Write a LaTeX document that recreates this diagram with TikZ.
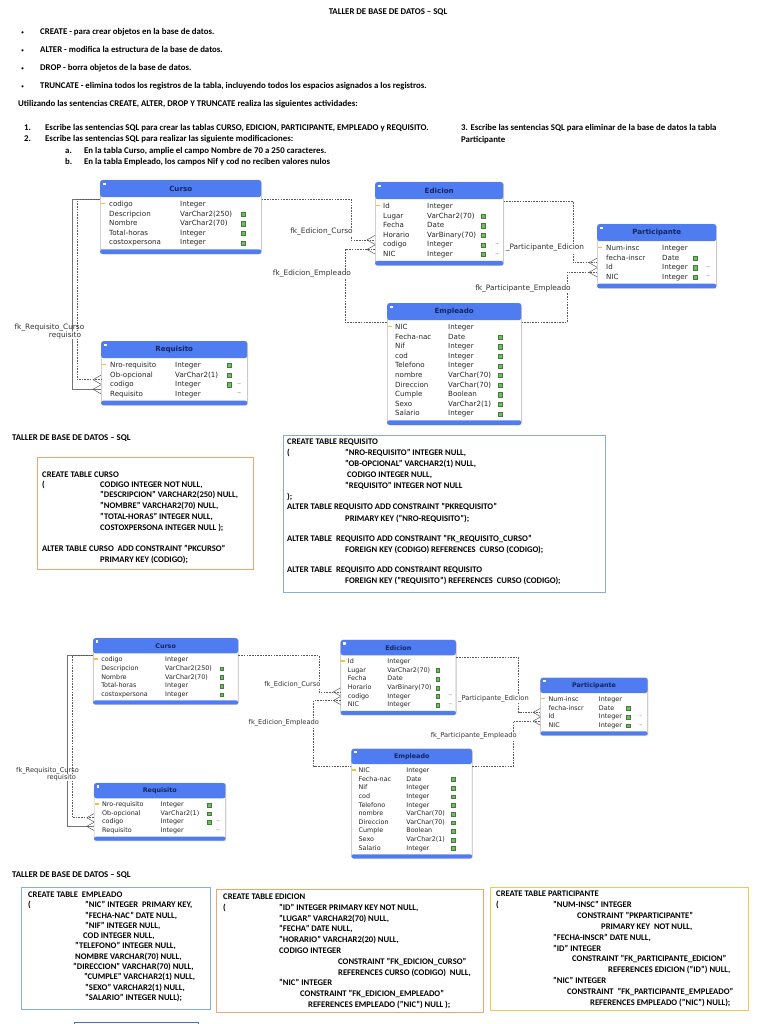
\documentclass[tikz,border=0pt]{standalone}
\usepackage{fontspec}
\setmainfont{Carlito}
\newfontfamily\erfont{DejaVu Sans}
\usetikzlibrary{positioning,shadows}
\definecolor{erblue}{HTML}{4F7DF1}
\definecolor{erhead}{HTML}{14245E}
\definecolor{erline}{HTML}{5A5A5A}
\definecolor{okgreen}{HTML}{6DBE5E}
\definecolor{pkyellow}{HTML}{F2C230}
\definecolor{sqlorange}{HTML}{F0A572}
\definecolor{sqlblue}{HTML}{85ADDD}
\definecolor{sqlyellow}{HTML}{F5C947}
\definecolor{sqldeep}{HTML}{4472C4}
\tikzset{
  doctext/.style={font=\fontsize{8.8}{10}\selectfont\bfseries, anchor=west, inner sep=0pt, text height=6pt, text depth=1.7pt},
  sqltext/.style={font=\fontsize{8.6}{10}\selectfont\bfseries, anchor=west, inner sep=0pt, text height=6pt, text depth=1.7pt},
  sqlbox/.style={draw, line width=0.9pt, anchor=north west, inner sep=0pt},
  tbl/.style={draw=black!28, fill=white, rounded corners=2.5pt, anchor=north west, inner sep=0pt, line width=0.6pt, drop shadow={shadow xshift=0.7pt, shadow yshift=-0.9pt, opacity=0.25}},
  thead/.style={fill=erblue, rounded corners=2.5pt, anchor=north west, inner sep=0pt, minimum height=17, font=\erfont\fontsize{7.1}{8}\selectfont\bfseries, text=erhead},
  tfoot/.style={fill=erblue, rounded corners=2pt, anchor=south west, inner sep=0pt, minimum height=4.5},
  tsq/.style={fill=white, minimum size=2.6, inner sep=0pt},
  fld/.style={anchor=west, inner sep=0pt, font=\erfont\fontsize{7.1}{8}\selectfont, text=black!85, text height=5.2pt, text depth=1.3pt},
  nn/.style={fill=okgreen, draw=okgreen!65!black, line width=0.3pt, minimum size=4.2, inner sep=0pt},
  fkey/.style={inner sep=0pt, font=\erfont\fontsize{4.5}{5}\selectfont, text=black!45},
  pk/.style={fill=pkyellow, minimum width=4.5, minimum height=1.6, inner sep=0pt},
  fk/.style={draw=erline, line width=0.55pt, dash pattern=on 1.6pt off 1.1pt},
  fkfull/.style={draw=erline!85, line width=0.7pt},
  fklabel/.style={inner sep=0.6pt, fill=white, font=\erfont\fontsize{7.4}{8}\selectfont, text=black!80},
  crow/.pic={\draw[erline, line width=0.5pt] (-8,0) -- (0,-4.5) (-8,0) -- (0,4.5);},
}
\begin{document}
\begin{tikzpicture}[x=1pt,y=-1pt]
  \fill[white] (0,0) rectangle (768,1024);
  \useasboundingbox (0,0) rectangle (768,1024);

  % heading and task list
  \node[doctext, anchor=center] (title) at (388,12) {TALLER DE BASE DE DATOS – SQL};
  \foreach \y/\s [count=\i] in {32/{CREATE - para crear objetos en la base de datos.},
      50/{ALTER - modifica la estructura de la base de datos.},
      68/{DROP - borra objetos de la base de datos.},
      86/{TRUNCATE - elimina todos los registros de la tabla, incluyendo todos los espacios asignados a los registros.}}{
    \node[doctext, font=\fontsize{6}{7}\selectfont] (dot\i) at (21,\y) {•};
    \node[doctext] (item\i) at (40,\y) {\s};
  }
  \node[doctext] (intro) at (18,104) {Utilizando las sentencias CREATE, ALTER, DROP Y TRUNCATE realiza las siguientes actividades:};
  \node[doctext] (n1) at (24,128) {1.};
  \node[doctext] (t1) at (45,128) {Escribe las sentencias SQL para crear las tablas CURSO, EDICION, PARTICIPANTE, EMPLEADO y REQUISITO.};
  \node[doctext] (n2) at (24,139) {2.};
  \node[doctext] (t2) at (45,139) {Escribe las sentencias SQL para realizar las siguiente modificaciones:};
  \node[doctext] (na) at (65,151) {a.};
  \node[doctext] (ta) at (84,151) {En la tabla Curso, amplie el campo Nombre de 70 a 250 caracteres.};
  \node[doctext] (nb) at (65,162) {b.};
  \node[doctext] (tb) at (84,162) {En la tabla Empleado, los campos Nif y cod no reciben valores nulos};
  \node[doctext] (n3) at (461,128) {3. Escribe las sentencias SQL para eliminar de la base de datos la tabla};
  \node[doctext] (t3) at (461,140) {Participante};

  % the same model twice, second one smaller
  \foreach \dg/\dx/\dy/\ds in {a/0/0/1, b/3/476/0.9}{
  \begin{scope}[shift={(\dx,\dy)}, scale=\ds, transform shape, name prefix=\dg-]
    % Curso
    \begin{scope}[shift={(100,180)}]
      \node[tbl, minimum width=161, minimum height=73.4] (curso) at (0,0) {};
      \node[thead, minimum width=161] (curso-h) at (0,0) {Curso};
      \node[tsq] (curso-s) at (4.5,4) {};
      \node[tfoot, minimum width=161] (curso-f) at (curso.south west) {};
      \node[pk] (curso-pk) at (3,23.5) {};
      \foreach \fn/\ft/\fg/\ff [count=\i from 0] in {codigo/Integer/0/0, Descripcion/VarChar2(250)/1/0,
          Nombre/VarChar2(70)/1/0, Total-horas/Integer/1/0, costoxpersona/Integer/1/0}{
        \coordinate (curso-r\i) at (0,19.5+9.6*\i);
        \node[fld] (curso-n\i) at (9,24.5+9.6*\i) {\fn};
        \node[fld] (curso-t\i) at (80,24.5+9.6*\i) {\ft};
        \ifnum\fg=1 \node[nn] (curso-g\i) at (143,24.5+9.6*\i) {};\fi
      }
    \end{scope}
    % Edicion
    \begin{scope}[shift={(375,182)}]
      \node[tbl, minimum width=128, minimum height=83] (edicion) at (0,0) {};
      \node[thead, minimum width=128] (edicion-h) at (0,0) {Edicion};
      \node[tsq] (edicion-s) at (4.5,4) {};
      \node[tfoot, minimum width=128] (edicion-f) at (edicion.south west) {};
      \node[pk] (edicion-pk) at (3,23.5) {};
      \foreach \fn/\ft/\fg/\ff [count=\i from 0] in {Id/Integer/0/0, Lugar/VarChar2(70)/1/0, Fecha/Date/1/0,
          Horario/VarBinary(70)/1/0, codigo/Integer/1/1, NIC/Integer/1/1}{
        \coordinate (edicion-r\i) at (0,19.5+9.6*\i);
        \node[fld] (edicion-n\i) at (8,24.5+9.6*\i) {\fn};
        \node[fld] (edicion-t\i) at (52,24.5+9.6*\i) {\ft};
        \ifnum\fg=1 \node[nn] (edicion-g\i) at (108,24.5+9.6*\i) {};\fi
        \ifnum\ff=1 \node[fkey] (edicion-k\i) at (122,24*1+9.6*\i) {⊸};\fi
      }
    \end{scope}
    % Participante
    \begin{scope}[shift={(597,224)}]
      \node[tbl, minimum width=119, minimum height=63.8] (participante) at (0,0) {};
      \node[thead, minimum width=119] (participante-h) at (0,0) {Participante};
      \node[tsq] (participante-s) at (4.5,4) {};
      \node[tfoot, minimum width=119] (participante-f) at (participante.south west) {};
      \node[pk] (participante-pk) at (3,23.5) {};
      \foreach \fn/\ft/\fg/\ff [count=\i from 0] in {Num-insc/Integer/0/0, fecha-inscr/Date/1/0,
          Id/Integer/1/1, NIC/Integer/1/1}{
        \coordinate (participante-r\i) at (0,19.5+9.6*\i);
        \node[fld] (participante-n\i) at (9,24.5+9.6*\i) {\fn};
        \node[fld] (participante-t\i) at (65,24.5+9.6*\i) {\ft};
        \ifnum\fg=1 \node[nn] (participante-g\i) at (98,24.5+9.6*\i) {};\fi
        \ifnum\ff=1 \node[fkey] (participante-k\i) at (111,24+9.6*\i) {⊸};\fi
      }
    \end{scope}
    % Empleado
    \begin{scope}[shift={(387,303)}]
      \node[tbl, minimum width=134, minimum height=121.4] (empleado) at (0,0) {};
      \node[thead, minimum width=134] (empleado-h) at (0,0) {Empleado};
      \node[tsq] (empleado-s) at (4.5,4) {};
      \node[tfoot, minimum width=134] (empleado-f) at (empleado.south west) {};
      \node[pk] (empleado-pk) at (3,23.5) {};
      \foreach \fn/\ft/\fg/\ff [count=\i from 0] in {NIC/Integer/0/0, Fecha-nac/Date/1/0, Nif/Integer/1/0,
          cod/Integer/1/0, Telefono/Integer/1/0, nombre/VarChar(70)/1/0, Direccion/VarChar(70)/1/0,
          Cumple/Boolean/1/0, Sexo/VarChar2(1)/1/0, Salario/Integer/1/0}{
        \coordinate (empleado-r\i) at (0,19.5+9.6*\i);
        \node[fld] (empleado-n\i) at (8,24.5+9.6*\i) {\fn};
        \node[fld] (empleado-t\i) at (61,24.5+9.6*\i) {\ft};
        \ifnum\fg=1 \node[nn] (empleado-g\i) at (113,24.5+9.6*\i) {};\fi
      }
    \end{scope}
    % Requisito
    \begin{scope}[shift={(101,341)}]
      \node[tbl, minimum width=146, minimum height=63.8] (requisito) at (0,0) {};
      \node[thead, minimum width=146] (requisito-h) at (0,0) {Requisito};
      \node[tsq] (requisito-s) at (4.5,4) {};
      \node[tfoot, minimum width=146] (requisito-f) at (requisito.south west) {};
      \node[pk] (requisito-pk) at (3,23.5) {};
      \foreach \fn/\ft/\fg/\ff [count=\i from 0] in {Nro-requisito/Integer/1/0, Ob-opcional/VarChar2(1)/1/0,
          codigo/Integer/1/1, Requisito/Integer/0/1}{
        \coordinate (requisito-r\i) at (0,19.5+9.6*\i);
        \node[fld] (requisito-n\i) at (9,24.5+9.6*\i) {\fn};
        \node[fld] (requisito-t\i) at (74,24.5+9.6*\i) {\ft};
        \ifnum\fg=1 \node[nn] (requisito-g\i) at (128,24.5+9.6*\i) {};\fi
        \ifnum\ff=1 \node[fkey] (requisito-k\i) at (138,24+9.6*\i) {⊸};\fi
      }
    \end{scope}

    % relationships
    \coordinate (bend-ec) at (351,0);
    \coordinate (bend-ee) at (345,0);
    \coordinate (bend-pe) at (573,0);
    \coordinate (bend-pm) at (567,0);
    \coordinate (bend-rc) at (72,0);
    \coordinate (bend-rq) at (77,0);
    \draw[fk] (curso.east |- curso-r0) -| (bend-ec |- edicion-r4) -- (edicion.west |- edicion-r4);
    \draw[fk] (edicion.west |- edicion-r5) -| (bend-ee |- empleado-r0) -- (empleado.west |- empleado-r0);
    \draw[fk] (edicion.east |- edicion-r0) -| (bend-pe |- participante-r2) -- (participante.west |- participante-r2);
    \draw[fk] (empleado.east |- empleado-r0) -| (bend-pm |- participante-r3) -- (participante.west |- participante-r3);
    \draw[fkfull] (curso.west |- curso-r0) -| (bend-rc |- requisito-r3) -- (requisito.west |- requisito-r3);
    \draw[fk] (curso.west |- curso-r0) -| (bend-rq |- requisito-r2) -- (requisito.west |- requisito-r2);
    \pic at (edicion.west |- edicion-r4) {crow};
    \pic at (edicion.west |- edicion-r5) {crow};
    \pic at (participante.west |- participante-r2) {crow};
    \pic at (participante.west |- participante-r3) {crow};
    \pic at (requisito.west |- requisito-r2) {crow};
    \pic at (requisito.west |- requisito-r3) {crow};
    \node[fklabel] (lab-ec) at (321.5,232) {fk\_Edicion\_Curso};
    \node[fklabel] (lab-ee) at (312,274) {fk\_Edicion\_Empleado};
    \node[fklabel, anchor=west] (lab-pe) at (505,248) {\_Participante\_Edicion};
    \node[fklabel] (lab-pm) at (523,289) {fk\_Participante\_Empleado};
    \node[fklabel, fill=none] (lab-rc) at (49.5,328) {fk\_Requisito\_Curso};
    \node[fklabel] (lab-rq) at (65,335) {requisito};
  \end{scope}
  }

  % first page of code
  \node[doctext] (sec1) at (12,438) {TALLER DE BASE DE DATOS – SQL};
  \node[sqlbox, draw=sqlorange, minimum width=216, minimum height=112] (curso-sql) at (37,457) {};
  \foreach \x/\y/\s [count=\i] in {42/475/{CREATE TABLE CURSO}, 42/485/{(}, 100/485/{CODIGO INTEGER NOT NULL,},
      100/495/{"DESCRIPCION" VARCHAR2(250) NULL,}, 100/506/{"NOMBRE" VARCHAR2(70) NULL,},
      100/517/{"TOTAL-HORAS" INTEGER NULL,}, 100/528/{COSTOXPERSONA INTEGER NULL );},
      42/549/{ALTER TABLE CURSO~ ADD CONSTRAINT "PKCURSO"}, 100/560/{PRIMARY KEY (CODIGO);}}
    \node[sqltext] (cur\i) at (\x,\y) {\s};

  \node[sqlbox, draw=sqlblue, minimum width=322, minimum height=157] (requisito-sql) at (283,435) {};
  \foreach \x/\y/\s [count=\i] in {287/442/{CREATE TABLE REQUISITO}, 287/453/{(}, 345/453/{"NRO-REQUISITO" INTEGER NULL,},
      345/464/{"OB-OPCIONAL" VARCHAR2(1) NULL,}, 347/475/{CODIGO INTEGER NULL,},
      345/486/{"REQUISITO" INTEGER NOT NULL}, 287/497/{);},
      287/507/{ALTER TABLE REQUISITO ADD CONSTRAINT "PKREQUISITO"}, 345/519/{PRIMARY KEY ("NRO-REQUISITO");},
      287/539/{ALTER TABLE~ REQUISITO ADD CONSTRAINT "FK\_REQUISITO\_CURSO"},
      345/550/{FOREIGN KEY (CODIGO) REFERENCES~ CURSO (CODIGO);},
      287/570/{ALTER TABLE~ REQUISITO ADD CONSTRAINT REQUISITO},
      345/581/{FOREIGN KEY ("REQUISITO") REFERENCES~ CURSO (CODIGO);}}
    \node[sqltext] (req\i) at (\x,\y) {\s};

  % second page of code
  \node[doctext] (sec2) at (12,875) {TALLER DE BASE DE DATOS – SQL};
  \node[sqlbox, draw=sqlblue, minimum width=189, minimum height=122] (empleado-sql) at (21,887) {};
  \foreach \x/\y/\s [count=\i] in {28/895/{CREATE TABLE~ EMPLEADO}, 28/905/{(}, 85/905/{"NIC" INTEGER~ PRIMARY KEY,},
      85/916/{"FECHA-NAC" DATE NULL,}, 85/926/{"NIF" INTEGER NULL,}, 83/936/{COD INTEGER NULL,},
      75/946/{"TELEFONO" INTEGER NULL,}, 75/957/{NOMBRE VARCHAR(70) NULL,}, 73/967/{"DIRECCION" VARCHAR(70) NULL,},
      84/977/{"CUMPLE" VARCHAR2(1) NULL,}, 85/988/{"SEXO" VARCHAR2(1) NULL,}, 85/998/{"SALARIO" INTEGER NULL);}}
    \node[sqltext] (emp\i) at (\x,\y) {\s};

  \node[sqlbox, draw=sqlorange, minimum width=267, minimum height=123] (edicion-sql) at (216,889) {};
  \foreach \x/\y/\s [count=\i] in {223/897/{CREATE TABLE EDICION}, 223/908/{(}, 279/908/{"ID" INTEGER PRIMARY KEY NOT NULL,},
      279/919/{"LUGAR" VARCHAR2(70) NULL,}, 279/929/{"FECHA" DATE NULL,}, 279/940/{"HORARIO" VARCHAR2(20) NULL,},
      279/951/{CODIGO INTEGER}, 338/962/{CONSTRAINT "FK\_EDICION\_CURSO"}, 338/973/{REFERENCES CURSO (CODIGO)~ NULL,},
      279/983/{"NIC" INTEGER}, 300/994/{CONSTRAINT "FK\_EDICION\_EMPLEADO"}, 308/1005/{REFERENCES EMPLEADO ("NIC") NULL );}}
    \node[sqltext] (edi\i) at (\x,\y) {\s};

  \node[sqlbox, draw=sqlyellow, minimum width=258, minimum height=123] (participante-sql) at (490,887) {};
  \foreach \x/\y/\s [count=\i] in {496/894/{CREATE TABLE PARTICIPANTE}, 496/905/{(}, 553/905/{"NUM-INSC" INTEGER},
      577/916/{CONSTRAINT "PKPARTICIPANTE"}, 601/927/{PRIMARY KEY~ NOT NULL,}, 553/938/{"FECHA-INSCR" DATE NULL,},
      553/949/{"ID" INTEGER}, 572/959/{CONSTRAINT "FK\_PARTICIPANTE\_EDICION"}, 608/970/{REFERENCES EDICION ("ID") NULL,},
      553/981/{"NIC" INTEGER}, 567/992/{CONSTRAINT~ "FK\_PARTICIPANTE\_EMPLEADO"}, 590/1003/{REFERENCES EMPLEADO ("NIC") NULL);}}
    \node[sqltext] (par\i) at (\x,\y) {\s};

  \node[sqlbox, draw=sqldeep, line width=1.3pt, minimum width=124, minimum height=14] (next-sql) at (74,1022) {};
\end{tikzpicture}
\end{document}
